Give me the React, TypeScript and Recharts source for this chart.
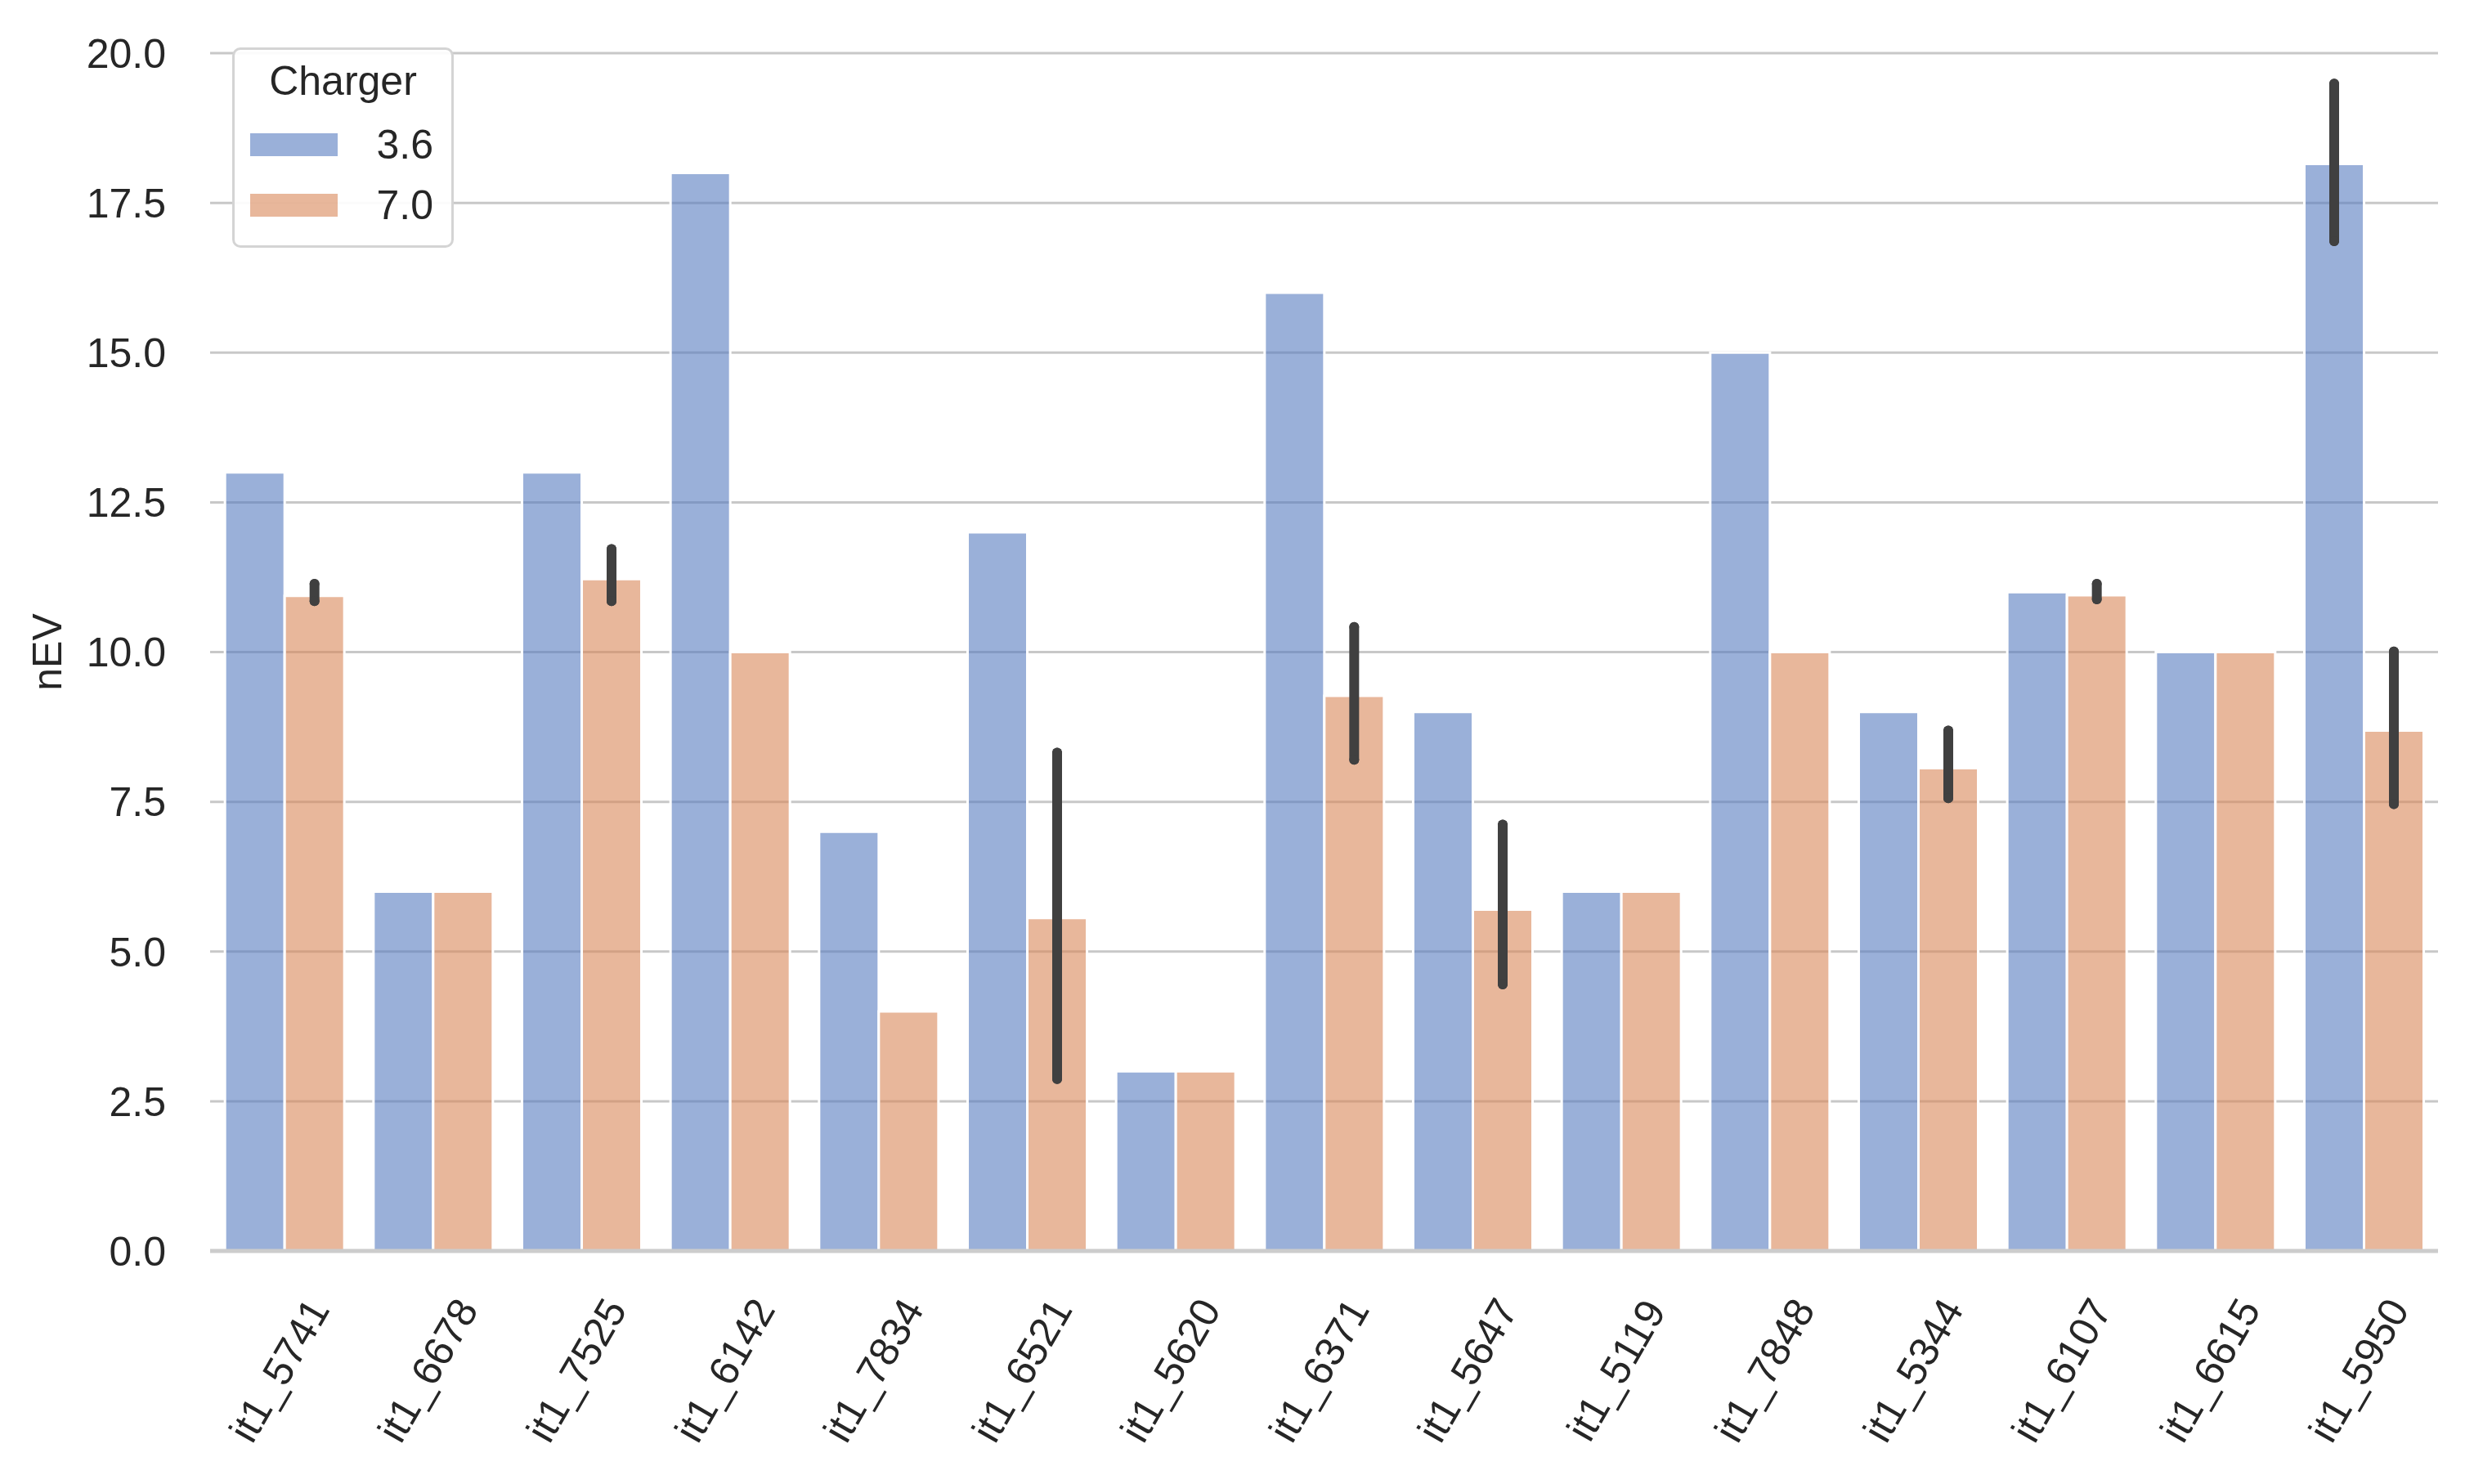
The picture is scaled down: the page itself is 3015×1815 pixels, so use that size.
import React from 'react';
import {
  BarChart,
  Bar,
  XAxis,
  YAxis,
  CartesianGrid,
  ErrorBar,
  Legend,
} from 'recharts';

const stations = [
  'it1_5741', 'it1_6678', 'it1_7525', 'it1_6142', 'it1_7834',
  'it1_6521', 'it1_5620', 'it1_6371', 'it1_5647', 'it1_5119',
  'it1_7848', 'it1_5344', 'it1_6107', 'it1_6615', 'it1_5950',
];

const chargers = ['3.6', '7.0'];

// mean nEV per station and charger
const mean36 = [13, 6, 13, 18, 7, 12, 3, 16, 9, 6, 15, 9, 11, 10, 18.15];
const mean70 = [10.94, 6, 11.22, 10, 4, 5.56, 3, 9.27, 5.7, 6, 10, 8.06, 10.95, 10, 8.69];

// confidence interval bounds (null = single observation, no bar)
const ci36Low = [null, null, null, null, null, null, null, null, null, null, null, null, null, null, 16.86];
const ci36High = [null, null, null, null, null, null, null, null, null, null, null, null, null, null, 19.49];
const ci70Low = [10.85, null, 10.85, null, null, 2.87, null, 8.2, 4.45, null, null, 7.56, 10.88, null, 7.46];
const ci70High = [11.14, null, 11.72, null, null, 8.32, null, 10.42, 7.12, null, null, 8.69, 11.14, null, 10.01];

const yTicks = [0, 2.5, 5, 7.5, 10, 12.5, 15, 17.5, 20];

const toErr = (m: number, lo: number | null, hi: number | null) =>
  lo == null || hi == null ? null : [m - lo, hi - m];

const data = stations.map((s, i) => ({
  station: s,
  c36: mean36[i],
  c70: mean70[i],
  e36: toErr(mean36[i], ci36Low[i], ci36High[i]),
  e70: toErr(mean70[i], ci70Low[i], ci70High[i]),
}));

const FONT = '"Liberation Sans", Arial, sans-serif';
const TEXT = '#262626';
const BLUE = '#577bc0';
const ORANGE = '#d98758';
const OPACITY = 0.6;

const W = 3015;
const H = 1815;
const PLOT_LEFT = 257;
const PLOT_TOP = 65;
const PLOT_BOTTOM = 1530;
const PLOT_RIGHT = 2982;

const XTick = (props: any) => {
  const { x, y, payload } = props;
  return (
    <g transform={`translate(${x - 6},${y + 140})`}>
      <text
        transform='rotate(-60)'
        textAnchor='middle'
        dominantBaseline='central'
        fontSize={50}
        fontFamily={FONT}
        fill={TEXT}
      >
        {payload.value}
      </text>
    </g>
  );
};

const LegendBox = () => {
  const colors = [BLUE, ORANGE];
  return (
    <div
      style={{
        position: 'relative',
        width: 271,
        height: 245,
        boxSizing: 'border-box',
        border: '3px solid #d4d4d4',
        borderRadius: 10,
        background: 'rgba(255,255,255,0.92)',
        fontFamily: FONT,
        color: TEXT,
        fontSize: 50,
      }}
    >
      <div style={{ position: 'absolute', top: 8, left: 0, width: '100%', textAlign: 'center', lineHeight: '60px' }}>
        Charger
      </div>
      {chargers.map((c, i) => (
        <React.Fragment key={c}>
          <div
            style={{
              position: 'absolute',
              left: 19,
              top: 102 + i * 74,
              width: 107,
              height: 28,
              background: colors[i],
              opacity: OPACITY,
            }}
          />
          <div style={{ position: 'absolute', right: 22, top: 86 + i * 74, lineHeight: '60px' }}>{c}</div>
        </React.Fragment>
      ))}
    </div>
  );
};

const App: React.FC = () => {
  return (
    <div style={{ width: W, height: H, background: '#fff' }}>
      <style>{'body{margin:0}'}</style>
      <BarChart
        width={W}
        height={H}
        data={data}
        margin={{ top: PLOT_TOP, right: W - PLOT_RIGHT, bottom: 0, left: 0 }}
        barCategoryGap='10%'
        barGap={0}
      >
        <CartesianGrid vertical={false} stroke='#c8c8c8' strokeWidth={3} />
        <XAxis
          dataKey='station'
          tick={<XTick />}
          tickLine={false}
          tickMargin={0}
          interval={0}
          axisLine={{ stroke: '#cccccc', strokeWidth: 5 }}
          height={H - PLOT_BOTTOM}
        />
        <YAxis
          width={PLOT_LEFT}
          domain={[0, 20]}
          ticks={yTicks}
          tickFormatter={(v: number) => v.toFixed(1)}
          axisLine={false}
          tickLine={false}
          tickMargin={48}
          tick={{ fontSize: 50, fill: TEXT, fontFamily: FONT }}
          label={{
            content: () => (
              <text
                x={58}
                y={(PLOT_TOP + PLOT_BOTTOM) / 2}
                transform={`rotate(-90, 58, ${(PLOT_TOP + PLOT_BOTTOM) / 2})`}
                textAnchor='middle'
                dominantBaseline='central'
                fontSize={50}
                fontFamily={FONT}
                fill={TEXT}
              >
                nEV
              </text>
            ),
          }}
        />
        <Legend
          layout='vertical'
          align='center'
          verticalAlign='middle'
          content={<LegendBox />}
          wrapperStyle={{ left: 284, top: 58, width: 271, height: 245 }}
        />
        <Bar
          dataKey='c36'
          name={chargers[0]}
          fill={BLUE}
          fillOpacity={OPACITY}
          stroke='#ffffff'
          strokeWidth={3}
          isAnimationActive={false}
        >
          <ErrorBar dataKey='e36' width={0} stroke='#404040' strokeWidth={12} strokeLinecap='round' />
        </Bar>
        <Bar
          dataKey='c70'
          name={chargers[1]}
          fill={ORANGE}
          fillOpacity={OPACITY}
          stroke='#ffffff'
          strokeWidth={3}
          isAnimationActive={false}
        >
          <ErrorBar dataKey='e70' width={0} stroke='#404040' strokeWidth={12} strokeLinecap='round' />
        </Bar>
      </BarChart>
    </div>
  );
};

export default App;
